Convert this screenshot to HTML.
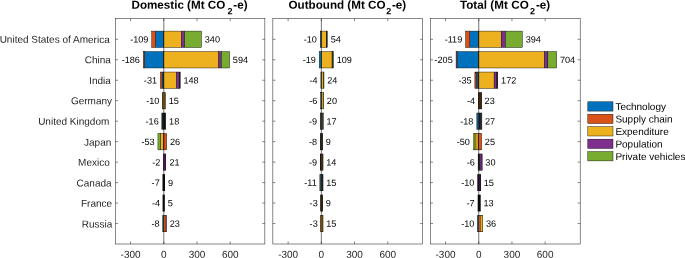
<!DOCTYPE html>
<html lang="en"><head><meta charset="utf-8"><title>Decomposition chart</title><style>
html,body{margin:0;padding:0;background:#fff}
body{width:685px;height:258px;overflow:hidden}
text{font-family:"Liberation Sans",Arial,Helvetica,sans-serif;fill:#262626}
.tl{font-size:10px}
.dl{font-size:9.15px;fill:#000}
.lg{font-size:10px;fill:#000}
.tt{font-size:11.65px;font-weight:bold;fill:#000}
.sub{font-size:9.1px}
</style></head><body>
<svg width="685" height="258" viewBox="0 0 685 258" style="display:block">
<rect width="685" height="258" fill="#fff"/>
<g>
<rect x="155.50" y="31.10" width="8.30" height="16.4" fill="#0072BD" stroke="#000" stroke-width="0.42"/>
<rect x="151.73" y="31.10" width="3.76" height="16.4" fill="#D95319" stroke="#000" stroke-width="0.42"/>
<rect x="163.80" y="31.10" width="17.60" height="16.4" fill="#EDB120" stroke="#000" stroke-width="0.42"/>
<rect x="181.40" y="31.10" width="3.21" height="16.4" fill="#7E2F8E" stroke="#000" stroke-width="0.42"/>
<rect x="184.61" y="31.10" width="16.83" height="16.4" fill="#77AC30" stroke="#000" stroke-width="0.42"/>
<text class="dl" x="148.43" y="42.60" text-anchor="end" transform="rotate(0.03 148.43 42.60)">-109</text>
<text class="dl" x="204.74" y="42.60" transform="rotate(0.03 204.74 42.60)">340</text>
<rect x="144.43" y="51.57" width="19.37" height="16.4" fill="#0072BD" stroke="#000" stroke-width="0.42"/>
<rect x="143.21" y="51.57" width="1.22" height="16.4" fill="#D95319" stroke="#000" stroke-width="0.42"/>
<rect x="163.80" y="51.57" width="55.02" height="16.4" fill="#EDB120" stroke="#000" stroke-width="0.42"/>
<rect x="218.82" y="51.57" width="2.44" height="16.4" fill="#7E2F8E" stroke="#000" stroke-width="0.42"/>
<rect x="221.25" y="51.57" width="8.30" height="16.4" fill="#77AC30" stroke="#000" stroke-width="0.42"/>
<text class="dl" x="139.91" y="63.07" text-anchor="end" transform="rotate(0.03 139.91 63.07)">-186</text>
<text class="dl" x="232.86" y="63.07" transform="rotate(0.03 232.86 63.07)">594</text>
<rect x="162.03" y="72.04" width="1.77" height="16.4" fill="#0072BD" stroke="#000" stroke-width="0.42"/>
<rect x="160.37" y="72.04" width="1.66" height="16.4" fill="#D95319" stroke="#000" stroke-width="0.42"/>
<rect x="163.80" y="72.04" width="12.73" height="16.4" fill="#EDB120" stroke="#000" stroke-width="0.42"/>
<rect x="176.53" y="72.04" width="2.66" height="16.4" fill="#7E2F8E" stroke="#000" stroke-width="0.42"/>
<rect x="179.19" y="72.04" width="1.00" height="16.4" fill="#1c1c1c" stroke="#000" stroke-width="0.42"/>
<text class="dl" x="157.07" y="83.54" text-anchor="end" transform="rotate(0.03 157.07 83.54)">-31</text>
<text class="dl" x="183.48" y="83.54" transform="rotate(0.03 183.48 83.54)">148</text>
<text class="dl" x="159.39" y="104.01" text-anchor="end" transform="rotate(0.03 159.39 104.01)">-10</text>
<text class="dl" x="168.76" y="104.01" transform="rotate(0.03 168.76 104.01)">15</text>
<text class="dl" x="158.73" y="124.48" text-anchor="end" transform="rotate(0.03 158.73 124.48)">-16</text>
<text class="dl" x="169.09" y="124.48" transform="rotate(0.03 169.09 124.48)">18</text>
<rect x="160.59" y="133.45" width="3.21" height="16.4" fill="#EDB120" stroke="#000" stroke-width="0.42"/>
<rect x="157.93" y="133.45" width="2.66" height="16.4" fill="#77AC30" stroke="#000" stroke-width="0.42"/>
<rect x="163.80" y="133.45" width="2.88" height="16.4" fill="#D95319" stroke="#000" stroke-width="0.42"/>
<text class="dl" x="154.63" y="144.95" text-anchor="end" transform="rotate(0.03 154.63 144.95)">-53</text>
<text class="dl" x="169.98" y="144.95" transform="rotate(0.03 169.98 144.95)">26</text>
<text class="dl" x="160.28" y="165.42" text-anchor="end" transform="rotate(0.03 160.28 165.42)">-2</text>
<text class="dl" x="169.42" y="165.42" transform="rotate(0.03 169.42 165.42)">21</text>
<text class="dl" x="159.73" y="185.89" text-anchor="end" transform="rotate(0.03 159.73 185.89)">-7</text>
<text class="dl" x="168.10" y="185.89" transform="rotate(0.03 168.10 185.89)">9</text>
<text class="dl" x="160.06" y="206.36" text-anchor="end" transform="rotate(0.03 160.06 206.36)">-4</text>
<text class="dl" x="167.65" y="206.36" transform="rotate(0.03 167.65 206.36)">5</text>
<text class="dl" x="159.61" y="226.83" text-anchor="end" transform="rotate(0.03 159.61 226.83)">-8</text>
<text class="dl" x="169.65" y="226.83" transform="rotate(0.03 169.65 226.83)">23</text>
<line x1="163.8" y1="18.6" x2="163.8" y2="244.0" stroke="#000" stroke-width="0.55"/>
<rect x="162.10" y="92.26" width="3.50" height="16.90" fill="#141210"/>
<rect x="162.45" y="92.81" width="2.80" height="15.80" fill="#6a4a12"/>
<rect x="161.55" y="112.73" width="4.45" height="16.90" fill="#141210"/>
<rect x="161.80" y="113.28" width="0.55" height="15.80" fill="#3a5a20"/>
<rect x="162.50" y="113.28" width="1.00" height="15.80" fill="#0a2438"/>
<rect x="165.25" y="113.28" width="0.50" height="15.80" fill="#3a5a20"/>
<rect x="163.10" y="153.67" width="2.90" height="16.90" fill="#141210"/>
<rect x="163.50" y="154.22" width="2.15" height="15.80" fill="#4a1a58"/>
<rect x="162.50" y="174.14" width="2.50" height="16.90" fill="#0c0808"/>
<rect x="162.60" y="194.61" width="2.20" height="16.90" fill="#0c0808"/>
<rect x="162.50" y="215.08" width="4.20" height="16.90" fill="#141210"/>
<rect x="162.80" y="215.63" width="0.85" height="15.80" fill="#1a3a50"/>
<rect x="164.00" y="215.63" width="1.80" height="15.80" fill="#cc4e18"/>
<rect x="115.4" y="18.6" width="149.45" height="225.40" fill="none" stroke="#262626" stroke-width="0.55"/>
<line x1="130.59" y1="244.0" x2="130.59" y2="241.4" stroke="#262626" stroke-width="0.55"/>
<line x1="130.59" y1="18.6" x2="130.59" y2="21.200000000000003" stroke="#262626" stroke-width="0.55"/>
<text class="tl" x="130.59" y="257.70" text-anchor="middle" transform="rotate(0.03 130.59 257.70)">-300</text>
<line x1="163.80" y1="244.0" x2="163.80" y2="241.4" stroke="#262626" stroke-width="0.55"/>
<line x1="163.80" y1="18.6" x2="163.80" y2="21.200000000000003" stroke="#262626" stroke-width="0.55"/>
<text class="tl" x="163.80" y="257.70" text-anchor="middle" transform="rotate(0.03 163.80 257.70)">0</text>
<line x1="197.01" y1="244.0" x2="197.01" y2="241.4" stroke="#262626" stroke-width="0.55"/>
<line x1="197.01" y1="18.6" x2="197.01" y2="21.200000000000003" stroke="#262626" stroke-width="0.55"/>
<text class="tl" x="197.01" y="257.70" text-anchor="middle" transform="rotate(0.03 197.01 257.70)">300</text>
<line x1="230.22" y1="244.0" x2="230.22" y2="241.4" stroke="#262626" stroke-width="0.55"/>
<line x1="230.22" y1="18.6" x2="230.22" y2="21.200000000000003" stroke="#262626" stroke-width="0.55"/>
<text class="tl" x="230.22" y="257.70" text-anchor="middle" transform="rotate(0.03 230.22 257.70)">600</text>
<line x1="115.4" y1="39.30" x2="118.0" y2="39.30" stroke="#262626" stroke-width="0.55"/>
<line x1="264.85" y1="39.30" x2="262.25" y2="39.30" stroke="#262626" stroke-width="0.55"/>
<text class="tl" x="109.70" y="42.90" text-anchor="end" transform="rotate(0.03 109.70 42.90)">United States of America</text>
<line x1="115.4" y1="59.77" x2="118.0" y2="59.77" stroke="#262626" stroke-width="0.55"/>
<line x1="264.85" y1="59.77" x2="262.25" y2="59.77" stroke="#262626" stroke-width="0.55"/>
<text class="tl" x="110.80" y="63.37" text-anchor="end" transform="rotate(0.03 110.80 63.37)">China</text>
<line x1="115.4" y1="80.24" x2="118.0" y2="80.24" stroke="#262626" stroke-width="0.55"/>
<line x1="264.85" y1="80.24" x2="262.25" y2="80.24" stroke="#262626" stroke-width="0.55"/>
<text class="tl" x="110.80" y="84.14" text-anchor="end" transform="rotate(0.03 110.80 84.14)">India</text>
<line x1="115.4" y1="100.71" x2="118.0" y2="100.71" stroke="#262626" stroke-width="0.55"/>
<line x1="264.85" y1="100.71" x2="262.25" y2="100.71" stroke="#262626" stroke-width="0.55"/>
<text class="tl" x="112.00" y="104.31" text-anchor="end" transform="rotate(0.03 112.00 104.31)">Germany</text>
<line x1="115.4" y1="121.18" x2="118.0" y2="121.18" stroke="#262626" stroke-width="0.55"/>
<line x1="264.85" y1="121.18" x2="262.25" y2="121.18" stroke="#262626" stroke-width="0.55"/>
<text class="tl" x="109.30" y="124.78" text-anchor="end" transform="rotate(0.03 109.30 124.78)">United Kingdom</text>
<line x1="115.4" y1="141.65" x2="118.0" y2="141.65" stroke="#262626" stroke-width="0.55"/>
<line x1="264.85" y1="141.65" x2="262.25" y2="141.65" stroke="#262626" stroke-width="0.55"/>
<text class="tl" x="111.30" y="145.65" text-anchor="end" transform="rotate(0.03 111.30 145.65)">Japan</text>
<line x1="115.4" y1="162.12" x2="118.0" y2="162.12" stroke="#262626" stroke-width="0.55"/>
<line x1="264.85" y1="162.12" x2="262.25" y2="162.12" stroke="#262626" stroke-width="0.55"/>
<text class="tl" x="109.80" y="165.72" text-anchor="end" transform="rotate(0.03 109.80 165.72)">Mexico</text>
<line x1="115.4" y1="182.59" x2="118.0" y2="182.59" stroke="#262626" stroke-width="0.55"/>
<line x1="264.85" y1="182.59" x2="262.25" y2="182.59" stroke="#262626" stroke-width="0.55"/>
<text class="tl" x="111.60" y="186.59" text-anchor="end" transform="rotate(0.03 111.60 186.59)">Canada</text>
<line x1="115.4" y1="203.06" x2="118.0" y2="203.06" stroke="#262626" stroke-width="0.55"/>
<line x1="264.85" y1="203.06" x2="262.25" y2="203.06" stroke="#262626" stroke-width="0.55"/>
<text class="tl" x="112.10" y="206.66" text-anchor="end" transform="rotate(0.03 112.10 206.66)">France</text>
<line x1="115.4" y1="223.53" x2="118.0" y2="223.53" stroke="#262626" stroke-width="0.55"/>
<line x1="264.85" y1="223.53" x2="262.25" y2="223.53" stroke="#262626" stroke-width="0.55"/>
<text class="tl" x="112.30" y="227.53" text-anchor="end" transform="rotate(0.03 112.30 227.53)">Russia</text>
<text class="tt" letter-spacing="0" x="189.53" y="8.7" text-anchor="middle" transform="rotate(0.03 189.53 8.7)">Domestic (Mt CO<tspan dx="2.3" dy="5.6" class="sub">2</tspan><tspan dx="0.7" dy="-5.6">-e)</tspan></text>
</g>
<g>
<rect x="320.24" y="31.10" width="1.11" height="16.4" fill="#0072BD" stroke="#000" stroke-width="0.42"/>
<rect x="321.35" y="31.10" width="4.87" height="16.4" fill="#EDB120" stroke="#000" stroke-width="0.42"/>
<rect x="326.22" y="31.10" width="0.44" height="16.4" fill="#7E2F8E" stroke="#000" stroke-width="0.42"/>
<rect x="326.66" y="31.10" width="0.66" height="16.4" fill="#2a3a18" stroke="#000" stroke-width="0.42"/>
<text class="dl" x="316.94" y="42.60" text-anchor="end" transform="rotate(0.03 316.94 42.60)">-10</text>
<text class="dl" x="330.63" y="42.60" transform="rotate(0.03 330.63 42.60)">54</text>
<rect x="319.25" y="51.57" width="2.10" height="16.4" fill="#0072BD" stroke="#000" stroke-width="0.42"/>
<rect x="321.35" y="51.57" width="10.74" height="16.4" fill="#EDB120" stroke="#000" stroke-width="0.42"/>
<rect x="332.09" y="51.57" width="0.33" height="16.4" fill="#7E2F8E" stroke="#000" stroke-width="0.42"/>
<rect x="332.42" y="51.57" width="1.00" height="16.4" fill="#3a5a18" stroke="#000" stroke-width="0.42"/>
<text class="dl" x="315.95" y="63.07" text-anchor="end" transform="rotate(0.03 315.95 63.07)">-19</text>
<text class="dl" x="336.72" y="63.07" transform="rotate(0.03 336.72 63.07)">109</text>
<rect x="320.91" y="72.04" width="0.44" height="16.4" fill="#0072BD" stroke="#000" stroke-width="0.42"/>
<rect x="321.35" y="72.04" width="2.21" height="16.4" fill="#EDB120" stroke="#000" stroke-width="0.42"/>
<rect x="323.56" y="72.04" width="0.44" height="16.4" fill="#77AC30" stroke="#000" stroke-width="0.42"/>
<text class="dl" x="317.61" y="83.54" text-anchor="end" transform="rotate(0.03 317.61 83.54)">-4</text>
<text class="dl" x="327.31" y="83.54" transform="rotate(0.03 327.31 83.54)">24</text>
<rect x="320.69" y="92.51" width="0.66" height="16.4" fill="#0072BD" stroke="#000" stroke-width="0.42"/>
<rect x="321.35" y="92.51" width="1.88" height="16.4" fill="#D99C1C" stroke="#000" stroke-width="0.42"/>
<rect x="323.23" y="92.51" width="0.33" height="16.4" fill="#77AC30" stroke="#000" stroke-width="0.42"/>
<text class="dl" x="317.39" y="104.01" text-anchor="end" transform="rotate(0.03 317.39 104.01)">-6</text>
<text class="dl" x="326.86" y="104.01" transform="rotate(0.03 326.86 104.01)">20</text>
<text class="dl" x="317.05" y="124.48" text-anchor="end" transform="rotate(0.03 317.05 124.48)">-9</text>
<text class="dl" x="326.53" y="124.48" transform="rotate(0.03 326.53 124.48)">17</text>
<text class="dl" x="317.16" y="144.95" text-anchor="end" transform="rotate(0.03 317.16 144.95)">-8</text>
<text class="dl" x="325.65" y="144.95" transform="rotate(0.03 325.65 144.95)">9</text>
<text class="dl" x="317.05" y="165.42" text-anchor="end" transform="rotate(0.03 317.05 165.42)">-9</text>
<text class="dl" x="326.20" y="165.42" transform="rotate(0.03 326.20 165.42)">14</text>
<text class="dl" x="316.83" y="185.89" text-anchor="end" transform="rotate(0.03 316.83 185.89)">-11</text>
<text class="dl" x="326.31" y="185.89" transform="rotate(0.03 326.31 185.89)">15</text>
<text class="dl" x="317.72" y="206.36" text-anchor="end" transform="rotate(0.03 317.72 206.36)">-3</text>
<text class="dl" x="325.65" y="206.36" transform="rotate(0.03 325.65 206.36)">9</text>
<text class="dl" x="317.72" y="226.83" text-anchor="end" transform="rotate(0.03 317.72 226.83)">-3</text>
<text class="dl" x="326.31" y="226.83" transform="rotate(0.03 326.31 226.83)">15</text>
<line x1="321.35" y1="18.6" x2="321.35" y2="244.0" stroke="#000" stroke-width="0.55"/>
<rect x="320.00" y="112.73" width="3.60" height="16.90" fill="#141210"/>
<rect x="320.25" y="113.28" width="0.90" height="15.80" fill="#1f4e6e"/>
<rect x="321.55" y="113.28" width="1.30" height="15.80" fill="#5e4412"/>
<rect x="320.00" y="133.20" width="3.00" height="16.90" fill="#141210"/>
<rect x="320.35" y="133.75" width="0.80" height="15.80" fill="#16303f"/>
<rect x="321.55" y="133.75" width="1.00" height="15.80" fill="#4a3a1a"/>
<rect x="320.00" y="153.67" width="3.30" height="16.90" fill="#141210"/>
<rect x="320.35" y="154.22" width="0.75" height="15.80" fill="#101c28"/>
<rect x="321.45" y="154.22" width="1.00" height="15.80" fill="#6b4a10"/>
<rect x="319.60" y="174.14" width="3.70" height="16.90" fill="#141210"/>
<rect x="319.90" y="174.69" width="1.10" height="15.80" fill="#144c6e"/>
<rect x="321.25" y="174.69" width="0.35" height="15.80" fill="#7a6020"/>
<rect x="321.60" y="174.69" width="1.35" height="15.80" fill="#2a1c10"/>
<rect x="320.30" y="194.61" width="2.60" height="16.90" fill="#141210"/>
<rect x="320.55" y="195.16" width="2.00" height="15.80" fill="#2e2210"/>
<rect x="320.30" y="215.08" width="3.00" height="16.90" fill="#141210"/>
<rect x="320.65" y="215.63" width="2.30" height="15.80" fill="#6b4a10"/>
<rect x="272.85" y="18.6" width="149.85" height="225.40" fill="none" stroke="#262626" stroke-width="0.55"/>
<line x1="288.14" y1="244.0" x2="288.14" y2="241.4" stroke="#262626" stroke-width="0.55"/>
<line x1="288.14" y1="18.6" x2="288.14" y2="21.200000000000003" stroke="#262626" stroke-width="0.55"/>
<text class="tl" x="288.14" y="257.70" text-anchor="middle" transform="rotate(0.03 288.14 257.70)">-300</text>
<line x1="321.35" y1="244.0" x2="321.35" y2="241.4" stroke="#262626" stroke-width="0.55"/>
<line x1="321.35" y1="18.6" x2="321.35" y2="21.200000000000003" stroke="#262626" stroke-width="0.55"/>
<text class="tl" x="321.35" y="257.70" text-anchor="middle" transform="rotate(0.03 321.35 257.70)">0</text>
<line x1="354.56" y1="244.0" x2="354.56" y2="241.4" stroke="#262626" stroke-width="0.55"/>
<line x1="354.56" y1="18.6" x2="354.56" y2="21.200000000000003" stroke="#262626" stroke-width="0.55"/>
<text class="tl" x="354.56" y="257.70" text-anchor="middle" transform="rotate(0.03 354.56 257.70)">300</text>
<line x1="387.77" y1="244.0" x2="387.77" y2="241.4" stroke="#262626" stroke-width="0.55"/>
<line x1="387.77" y1="18.6" x2="387.77" y2="21.200000000000003" stroke="#262626" stroke-width="0.55"/>
<text class="tl" x="387.77" y="257.70" text-anchor="middle" transform="rotate(0.03 387.77 257.70)">600</text>
<line x1="272.85" y1="39.30" x2="275.45000000000005" y2="39.30" stroke="#262626" stroke-width="0.55"/>
<line x1="422.7" y1="39.30" x2="420.09999999999997" y2="39.30" stroke="#262626" stroke-width="0.55"/>
<line x1="272.85" y1="59.77" x2="275.45000000000005" y2="59.77" stroke="#262626" stroke-width="0.55"/>
<line x1="422.7" y1="59.77" x2="420.09999999999997" y2="59.77" stroke="#262626" stroke-width="0.55"/>
<line x1="272.85" y1="80.24" x2="275.45000000000005" y2="80.24" stroke="#262626" stroke-width="0.55"/>
<line x1="422.7" y1="80.24" x2="420.09999999999997" y2="80.24" stroke="#262626" stroke-width="0.55"/>
<line x1="272.85" y1="100.71" x2="275.45000000000005" y2="100.71" stroke="#262626" stroke-width="0.55"/>
<line x1="422.7" y1="100.71" x2="420.09999999999997" y2="100.71" stroke="#262626" stroke-width="0.55"/>
<line x1="272.85" y1="121.18" x2="275.45000000000005" y2="121.18" stroke="#262626" stroke-width="0.55"/>
<line x1="422.7" y1="121.18" x2="420.09999999999997" y2="121.18" stroke="#262626" stroke-width="0.55"/>
<line x1="272.85" y1="141.65" x2="275.45000000000005" y2="141.65" stroke="#262626" stroke-width="0.55"/>
<line x1="422.7" y1="141.65" x2="420.09999999999997" y2="141.65" stroke="#262626" stroke-width="0.55"/>
<line x1="272.85" y1="162.12" x2="275.45000000000005" y2="162.12" stroke="#262626" stroke-width="0.55"/>
<line x1="422.7" y1="162.12" x2="420.09999999999997" y2="162.12" stroke="#262626" stroke-width="0.55"/>
<line x1="272.85" y1="182.59" x2="275.45000000000005" y2="182.59" stroke="#262626" stroke-width="0.55"/>
<line x1="422.7" y1="182.59" x2="420.09999999999997" y2="182.59" stroke="#262626" stroke-width="0.55"/>
<line x1="272.85" y1="203.06" x2="275.45000000000005" y2="203.06" stroke="#262626" stroke-width="0.55"/>
<line x1="422.7" y1="203.06" x2="420.09999999999997" y2="203.06" stroke="#262626" stroke-width="0.55"/>
<line x1="272.85" y1="223.53" x2="275.45000000000005" y2="223.53" stroke="#262626" stroke-width="0.55"/>
<line x1="422.7" y1="223.53" x2="420.09999999999997" y2="223.53" stroke="#262626" stroke-width="0.55"/>
<text class="tt" letter-spacing="0" x="347.38" y="8.7" text-anchor="middle" transform="rotate(0.03 347.38 8.7)">Outbound (Mt CO<tspan dx="0.7" dy="5.6" class="sub">2</tspan><tspan dx="0.7" dy="-5.6">-e)</tspan></text>
</g>
<g>
<rect x="469.78" y="31.10" width="8.97" height="16.4" fill="#0072BD" stroke="#000" stroke-width="0.42"/>
<rect x="465.58" y="31.10" width="4.21" height="16.4" fill="#D95319" stroke="#000" stroke-width="0.42"/>
<rect x="478.75" y="31.10" width="22.47" height="16.4" fill="#EDB120" stroke="#000" stroke-width="0.42"/>
<rect x="501.22" y="31.10" width="4.21" height="16.4" fill="#7E2F8E" stroke="#000" stroke-width="0.42"/>
<rect x="505.43" y="31.10" width="16.94" height="16.4" fill="#77AC30" stroke="#000" stroke-width="0.42"/>
<text class="dl" x="462.28" y="42.60" text-anchor="end" transform="rotate(0.03 462.28 42.60)">-119</text>
<text class="dl" x="525.67" y="42.60" transform="rotate(0.03 525.67 42.60)">394</text>
<rect x="456.94" y="51.57" width="21.81" height="16.4" fill="#0072BD" stroke="#000" stroke-width="0.42"/>
<rect x="456.06" y="51.57" width="0.89" height="16.4" fill="#D95319" stroke="#000" stroke-width="0.42"/>
<rect x="478.75" y="51.57" width="65.65" height="16.4" fill="#EDB120" stroke="#000" stroke-width="0.42"/>
<rect x="544.40" y="51.57" width="3.43" height="16.4" fill="#7E2F8E" stroke="#000" stroke-width="0.42"/>
<rect x="547.83" y="51.57" width="8.86" height="16.4" fill="#77AC30" stroke="#000" stroke-width="0.42"/>
<text class="dl" x="452.76" y="63.07" text-anchor="end" transform="rotate(0.03 452.76 63.07)">-205</text>
<text class="dl" x="559.98" y="63.07" transform="rotate(0.03 559.98 63.07)">704</text>
<rect x="476.76" y="72.04" width="1.99" height="16.4" fill="#005a98" stroke="#000" stroke-width="0.42"/>
<rect x="474.88" y="72.04" width="1.88" height="16.4" fill="#b8440f" stroke="#000" stroke-width="0.42"/>
<rect x="478.75" y="72.04" width="15.39" height="16.4" fill="#EDB120" stroke="#000" stroke-width="0.42"/>
<rect x="494.14" y="72.04" width="2.77" height="16.4" fill="#7E2F8E" stroke="#000" stroke-width="0.42"/>
<rect x="496.90" y="72.04" width="0.89" height="16.4" fill="#1c1c1c" stroke="#000" stroke-width="0.42"/>
<text class="dl" x="471.58" y="83.54" text-anchor="end" transform="rotate(0.03 471.58 83.54)">-35</text>
<text class="dl" x="501.09" y="83.54" transform="rotate(0.03 501.09 83.54)">172</text>
<text class="dl" x="475.01" y="104.01" text-anchor="end" transform="rotate(0.03 475.01 104.01)">-4</text>
<text class="dl" x="484.60" y="104.01" transform="rotate(0.03 484.60 104.01)">23</text>
<text class="dl" x="473.46" y="124.48" text-anchor="end" transform="rotate(0.03 473.46 124.48)">-18</text>
<text class="dl" x="485.04" y="124.48" transform="rotate(0.03 485.04 124.48)">27</text>
<text class="dl" x="469.91" y="144.95" text-anchor="end" transform="rotate(0.03 469.91 144.95)">-50</text>
<text class="dl" x="484.82" y="144.95" transform="rotate(0.03 484.82 144.95)">25</text>
<text class="dl" x="474.79" y="165.42" text-anchor="end" transform="rotate(0.03 474.79 165.42)">-6</text>
<text class="dl" x="485.37" y="165.42" transform="rotate(0.03 485.37 165.42)">30</text>
<text class="dl" x="474.34" y="185.89" text-anchor="end" transform="rotate(0.03 474.34 185.89)">-10</text>
<text class="dl" x="483.71" y="185.89" transform="rotate(0.03 483.71 185.89)">15</text>
<text class="dl" x="474.68" y="206.36" text-anchor="end" transform="rotate(0.03 474.68 206.36)">-7</text>
<text class="dl" x="483.49" y="206.36" transform="rotate(0.03 483.49 206.36)">13</text>
<text class="dl" x="474.34" y="226.83" text-anchor="end" transform="rotate(0.03 474.34 226.83)">-10</text>
<text class="dl" x="486.04" y="226.83" transform="rotate(0.03 486.04 226.83)">36</text>
<line x1="478.75" y1="18.6" x2="478.75" y2="244.0" stroke="#000" stroke-width="0.55"/>
<rect x="478.00" y="92.26" width="3.90" height="16.90" fill="#141210"/>
<rect x="478.65" y="92.81" width="2.55" height="15.80" fill="#44260e"/>
<rect x="476.55" y="112.73" width="5.55" height="16.90" fill="#141210"/>
<rect x="476.90" y="113.28" width="1.60" height="15.80" fill="#0a5a90"/>
<rect x="479.65" y="113.28" width="1.40" height="15.80" fill="#3a1a48"/>
<rect x="481.15" y="113.28" width="0.50" height="15.80" fill="#3a5a20"/>
<rect x="473.15" y="133.20" width="8.55" height="16.90" fill="#141210"/>
<rect x="473.30" y="133.75" width="1.25" height="15.80" fill="#84bc3a"/>
<rect x="474.55" y="133.75" width="0.85" height="15.80" fill="#6fa22c"/>
<rect x="475.45" y="133.75" width="2.55" height="15.80" fill="#d29a1c"/>
<rect x="478.05" y="133.75" width="0.45" height="15.80" fill="#1a3a50"/>
<rect x="478.95" y="133.75" width="2.45" height="15.80" fill="#D95319"/>
<rect x="477.90" y="153.67" width="4.60" height="16.90" fill="#141210"/>
<rect x="478.15" y="154.22" width="0.80" height="15.80" fill="#0a1a28"/>
<rect x="479.25" y="154.22" width="0.60" height="15.80" fill="#3a2a10"/>
<rect x="480.00" y="154.22" width="1.75" height="15.80" fill="#6a2a7a"/>
<rect x="477.30" y="174.14" width="3.70" height="16.90" fill="#141210"/>
<rect x="478.90" y="174.69" width="1.60" height="15.80" fill="#3a1248"/>
<rect x="477.70" y="194.61" width="3.00" height="16.90" fill="#0c0808"/>
<rect x="477.30" y="215.08" width="5.60" height="16.90" fill="#141210"/>
<rect x="477.55" y="215.63" width="1.05" height="15.80" fill="#145a8c"/>
<rect x="478.95" y="215.63" width="1.50" height="15.80" fill="#d95319"/>
<rect x="480.65" y="215.63" width="1.80" height="15.80" fill="#edb120"/>
<rect x="430.4" y="18.6" width="149.80" height="225.40" fill="none" stroke="#262626" stroke-width="0.55"/>
<line x1="445.54" y1="244.0" x2="445.54" y2="241.4" stroke="#262626" stroke-width="0.55"/>
<line x1="445.54" y1="18.6" x2="445.54" y2="21.200000000000003" stroke="#262626" stroke-width="0.55"/>
<text class="tl" x="445.54" y="257.70" text-anchor="middle" transform="rotate(0.03 445.54 257.70)">-300</text>
<line x1="478.75" y1="244.0" x2="478.75" y2="241.4" stroke="#262626" stroke-width="0.55"/>
<line x1="478.75" y1="18.6" x2="478.75" y2="21.200000000000003" stroke="#262626" stroke-width="0.55"/>
<text class="tl" x="478.75" y="257.70" text-anchor="middle" transform="rotate(0.03 478.75 257.70)">0</text>
<line x1="511.96" y1="244.0" x2="511.96" y2="241.4" stroke="#262626" stroke-width="0.55"/>
<line x1="511.96" y1="18.6" x2="511.96" y2="21.200000000000003" stroke="#262626" stroke-width="0.55"/>
<text class="tl" x="511.96" y="257.70" text-anchor="middle" transform="rotate(0.03 511.96 257.70)">300</text>
<line x1="545.17" y1="244.0" x2="545.17" y2="241.4" stroke="#262626" stroke-width="0.55"/>
<line x1="545.17" y1="18.6" x2="545.17" y2="21.200000000000003" stroke="#262626" stroke-width="0.55"/>
<text class="tl" x="545.17" y="257.70" text-anchor="middle" transform="rotate(0.03 545.17 257.70)">600</text>
<line x1="430.4" y1="39.30" x2="433.0" y2="39.30" stroke="#262626" stroke-width="0.55"/>
<line x1="580.2" y1="39.30" x2="577.6" y2="39.30" stroke="#262626" stroke-width="0.55"/>
<line x1="430.4" y1="59.77" x2="433.0" y2="59.77" stroke="#262626" stroke-width="0.55"/>
<line x1="580.2" y1="59.77" x2="577.6" y2="59.77" stroke="#262626" stroke-width="0.55"/>
<line x1="430.4" y1="80.24" x2="433.0" y2="80.24" stroke="#262626" stroke-width="0.55"/>
<line x1="580.2" y1="80.24" x2="577.6" y2="80.24" stroke="#262626" stroke-width="0.55"/>
<line x1="430.4" y1="100.71" x2="433.0" y2="100.71" stroke="#262626" stroke-width="0.55"/>
<line x1="580.2" y1="100.71" x2="577.6" y2="100.71" stroke="#262626" stroke-width="0.55"/>
<line x1="430.4" y1="121.18" x2="433.0" y2="121.18" stroke="#262626" stroke-width="0.55"/>
<line x1="580.2" y1="121.18" x2="577.6" y2="121.18" stroke="#262626" stroke-width="0.55"/>
<line x1="430.4" y1="141.65" x2="433.0" y2="141.65" stroke="#262626" stroke-width="0.55"/>
<line x1="580.2" y1="141.65" x2="577.6" y2="141.65" stroke="#262626" stroke-width="0.55"/>
<line x1="430.4" y1="162.12" x2="433.0" y2="162.12" stroke="#262626" stroke-width="0.55"/>
<line x1="580.2" y1="162.12" x2="577.6" y2="162.12" stroke="#262626" stroke-width="0.55"/>
<line x1="430.4" y1="182.59" x2="433.0" y2="182.59" stroke="#262626" stroke-width="0.55"/>
<line x1="580.2" y1="182.59" x2="577.6" y2="182.59" stroke="#262626" stroke-width="0.55"/>
<line x1="430.4" y1="203.06" x2="433.0" y2="203.06" stroke="#262626" stroke-width="0.55"/>
<line x1="580.2" y1="203.06" x2="577.6" y2="203.06" stroke="#262626" stroke-width="0.55"/>
<line x1="430.4" y1="223.53" x2="433.0" y2="223.53" stroke="#262626" stroke-width="0.55"/>
<line x1="580.2" y1="223.53" x2="577.6" y2="223.53" stroke="#262626" stroke-width="0.55"/>
<text class="tt" letter-spacing="0.05" x="505.10" y="8.7" text-anchor="middle" transform="rotate(0.03 505.10 8.7)">Total (Mt CO<tspan dx="1.3" dy="5.6" class="sub">2</tspan><tspan dx="0.7" dy="-5.6">-e)</tspan></text>
</g>
<rect x="587.8" y="101.80" width="25.2" height="9.3" fill="#0072BD" stroke="#000" stroke-width="0.42"/>
<text class="lg" x="615.40" y="110.10" transform="rotate(0.03 615.40 110.10)">Technology</text>
<rect x="587.8" y="114.25" width="25.2" height="9.3" fill="#D95319" stroke="#000" stroke-width="0.42"/>
<text class="lg" x="615.40" y="122.55" transform="rotate(0.03 615.40 122.55)">Supply chain</text>
<rect x="587.8" y="126.70" width="25.2" height="9.3" fill="#EDB120" stroke="#000" stroke-width="0.42"/>
<text class="lg" x="615.40" y="135.00" transform="rotate(0.03 615.40 135.00)">Expenditure</text>
<rect x="587.8" y="139.15" width="25.2" height="9.3" fill="#7E2F8E" stroke="#000" stroke-width="0.42"/>
<text class="lg" x="615.40" y="147.45" transform="rotate(0.03 615.40 147.45)">Population</text>
<rect x="587.8" y="151.60" width="25.2" height="9.3" fill="#77AC30" stroke="#000" stroke-width="0.42"/>
<text class="lg" x="615.40" y="159.90" transform="rotate(0.03 615.40 159.90)">Private vehicles</text>
</svg>
</body></html>
